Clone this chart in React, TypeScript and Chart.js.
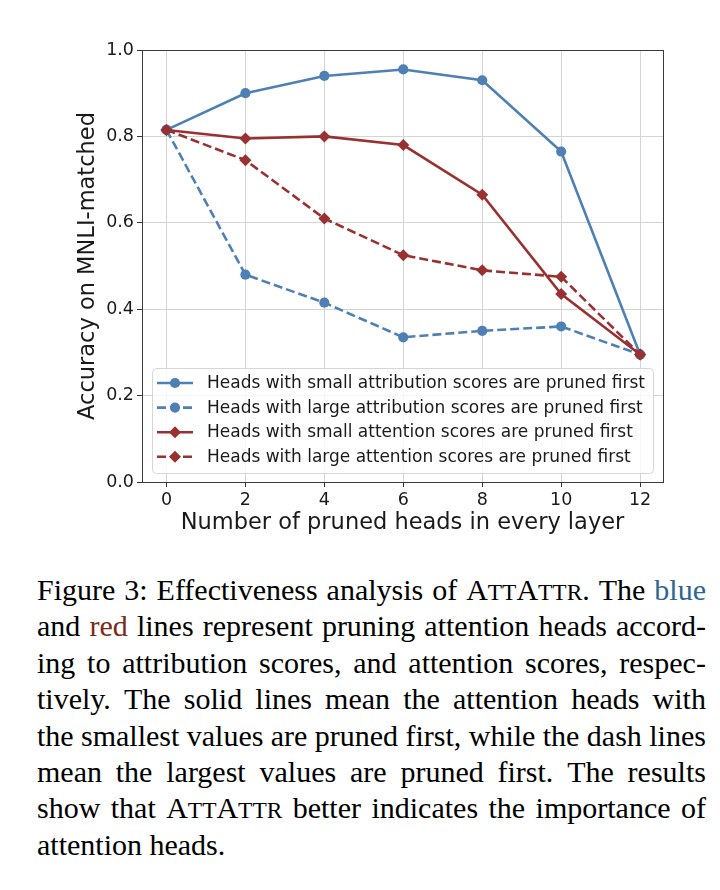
import React, { useEffect, useRef } from "react";
import { Chart, registerables } from "chart.js";

Chart.register(...registerables);

// ---- data ----
const xValues = [0, 2, 4, 6, 8, 10, 12];
const smallAttribution = [0.815, 0.9, 0.94, 0.955, 0.93, 0.765, 0.295];
const largeAttribution = [0.815, 0.48, 0.415, 0.335, 0.35, 0.36, 0.295];
const smallAttention = [0.815, 0.795, 0.8, 0.78, 0.665, 0.435, 0.295];
const largeAttention = [0.815, 0.745, 0.61, 0.525, 0.49, 0.475, 0.295];
const xTicks = [0, 2, 4, 6, 8, 10, 12];
const yTicks = [0, 0.2, 0.4, 0.6, 0.8, 1.0];
const seriesLabels = [
  "Heads with small attribution scores are pruned first",
  "Heads with large attribution scores are pruned first",
  "Heads with small attention scores are pruned first",
  "Heads with large attention scores are pruned first",
];
const xTitle = "Number of pruned heads in every layer";
const yTitle = "Accuracy on MNLI-matched";

const BLUE = "#4f80b3";
const RED = "#9a3131";
const FONT = "DejaVu Sans";
const TEXT = "#1a1a1a";

const seriesStyles = [
  { color: BLUE, dashed: false, marker: "circle" },
  { color: BLUE, dashed: true, marker: "circle" },
  { color: RED, dashed: false, marker: "rectRot" },
  { color: RED, dashed: true, marker: "rectRot" },
];
const seriesValues = [smallAttribution, largeAttribution, smallAttention, largeAttention];

function drawMarker(ctx: CanvasRenderingContext2D, kind: string, x: number, y: number, color: string) {
  ctx.save();
  ctx.fillStyle = color;
  ctx.setLineDash([]);
  ctx.beginPath();
  if (kind === "circle") {
    ctx.arc(x, y, 5.1, 0, Math.PI * 2);
  } else {
    const r = 6;
    ctx.moveTo(x, y - r);
    ctx.lineTo(x + r, y);
    ctx.lineTo(x, y + r);
    ctx.lineTo(x - r, y);
    ctx.closePath();
  }
  ctx.fill();
  ctx.restore();
}

const framePlugin = {
  id: "frameAndLegend",
  afterDraw(chart: any) {
    const { ctx, chartArea: a } = chart;
    ctx.save();
    // spines
    ctx.strokeStyle = "#3a3a3a";
    ctx.lineWidth = 1;
    ctx.setLineDash([]);
    ctx.strokeRect(Math.round(a.left) + 0.5, Math.round(a.top) + 0.5, Math.round(a.right - a.left), Math.round(a.bottom - a.top));

    // legend box
    const bx = a.left + 10;
    const by = a.bottom - 114;
    const bw = a.right - a.left - 20;
    const bh = 105;
    ctx.beginPath();
    (ctx as any).roundRect(bx + 0.5, by + 0.5, bw, bh, 4);
    ctx.fillStyle = "rgba(255,255,255,0.8)";
    ctx.fill();
    ctx.strokeStyle = "#d6d6d6";
    ctx.stroke();

    seriesLabels.forEach((label, i) => {
      const st = seriesStyles[i];
      const y = by + 15 + i * 24.6;
      const x0 = bx + 5;
      const x1 = bx + 41;
      ctx.save();
      ctx.strokeStyle = st.color;
      ctx.lineWidth = 2.6;
      ctx.setLineDash(st.dashed ? [9, 4] : []);
      ctx.beginPath();
      ctx.moveTo(x0, y);
      ctx.lineTo(x1, y);
      ctx.stroke();
      ctx.restore();
      drawMarker(ctx, st.marker, (x0 + x1) / 2, y, st.color);
      ctx.fillStyle = TEXT;
      ctx.font = `17px "${FONT}"`;
      ctx.textBaseline = "middle";
      ctx.textAlign = "left";
      ctx.fillText(label, bx + 55, y + 0.5);
    });
    ctx.restore();
  },
};

type Tok = string | { t: string; c?: string; sc?: boolean; after?: string };
const CAP_BLUE = "#2b6792";
const CAP_RED = "#7d2a1a";
const captionLines: Tok[][] = [
  ["Figure", "3:", "Effectiveness", "analysis", "of", { t: "AttAttr", sc: true, after: "." }, "The", { t: "blue", c: CAP_BLUE }],
  ["and", { t: "red", c: CAP_RED }, "lines", "represent", "pruning", "attention", "heads", "accord-"],
  ["ing", "to", "attribution", "scores,", "and", "attention", "scores,", "respec-"],
  ["tively.", "The", "solid", "lines", "mean", "the", "attention", "heads", "with"],
  ["the", "smallest", "values", "are", "pruned", "first,", "while", "the", "dash", "lines"],
  ["mean", "the", "largest", "values", "are", "pruned", "first.", "The", "results"],
  ["show", "that", { t: "AttAttr", sc: true }, "better", "indicates", "the", "importance", "of"],
];
const captionLast = "attention heads.";

function smallCaps(text: string) {
  // uppercase letters stay full size; lowercase become reduced capitals
  const parts: React.ReactNode[] = [];
  let i = 0;
  let k = 0;
  while (i < text.length) {
    const lower = text[i] !== text[i].toUpperCase();
    let j = i;
    while (j < text.length && (text[j] !== text[j].toUpperCase()) === lower) j++;
    const seg = text.slice(i, j);
    parts.push(
      lower ? (
        <span key={k++} style={{ fontSize: "0.78em", lineHeight: 0 }}>
          {seg.toUpperCase()}
        </span>
      ) : (
        <span key={k++}>{seg}</span>
      )
    );
    i = j;
  }
  return parts;
}

function renderTok(tok: Tok, key: number) {
  if (typeof tok === "string") return <span key={key}>{tok}</span>;
  if (tok.sc) {
    return (
      <span key={key}>
        {smallCaps(tok.t)}
        {tok.after || ""}
      </span>
    );
  }
  return (
    <span key={key} style={{ color: tok.c }}>
      {tok.t}
    </span>
  );
}

export default function App() {
  const ref = useRef<HTMLCanvasElement | null>(null);

  useEffect(() => {
    if (!ref.current) return;
    const datasets = seriesValues.map((vals, i) => {
      const st = seriesStyles[i];
      return {
        label: seriesLabels[i],
        data: xValues.map((x, j) => ({ x, y: vals[j] })),
        borderColor: st.color,
        backgroundColor: st.color,
        borderWidth: 2.6,
        borderDash: st.dashed ? [9, 4] : [],
        pointStyle: st.marker,
        pointRadius: st.marker === "circle" ? 5.1 : 6,
        pointBackgroundColor: st.color,
        pointBorderColor: st.color,
        pointBorderWidth: 0,
        tension: 0,
        fill: false,
        order: 3 - i,
      };
    });
    const chart = new Chart(ref.current, {
      type: "line",
      data: { datasets },
      options: {
        animation: false,
        responsive: false,
        devicePixelRatio: 1,
        layout: { padding: { top: 50, right: 57, left: 0, bottom: 0 } },
        plugins: { legend: { display: false }, tooltip: { enabled: false } },
        scales: {
          x: {
            type: "linear",
            min: -0.62,
            max: 12.58,
            afterBuildTicks: (s: any) => {
              s.ticks = xTicks.map((v) => ({ value: v }));
            },
            afterFit: (s: any) => {
              s.height = 78;
            },
            ticks: {
              callback: (v: any) => String(v),
              font: { family: FONT, size: 17.5 },
              color: TEXT,
              padding: 3,
              maxRotation: 0,
            },
            grid: { color: "#d4d4d4", lineWidth: 1, tickLength: 5, tickColor: "#333", drawTicks: true },
            border: { display: false },
            title: {
              display: true,
              text: xTitle,
              font: { family: FONT, size: 22.5, lineHeight: 1.2 },
              color: TEXT,
              padding: { top: 0, bottom: 23 },
            },
          },
          y: {
            type: "linear",
            min: 0,
            max: 1,
            afterBuildTicks: (s: any) => {
              s.ticks = yTicks.map((v) => ({ value: v }));
            },
            afterFit: (s: any) => {
              s.width = 142;
            },
            ticks: {
              callback: (v: any) => Number(v).toFixed(1),
              font: { family: FONT, size: 17.5 },
              color: TEXT,
              padding: 3,
            },
            grid: { color: "#d4d4d4", lineWidth: 1, tickLength: 5, tickColor: "#333", drawTicks: true },
            border: { display: false },
            title: {
              display: true,
              text: yTitle,
              font: { family: FONT, size: 22.5, lineHeight: 1.2 },
              color: TEXT,
              padding: { top: 74.5, bottom: 0 },
            },
          },
        },
      },
      plugins: [framePlugin],
    } as any);
    return () => chart.destroy();
  }, []);

  return (
    <div style={{ position: "absolute", left: 0, top: 0, width: 720, height: 890, background: "#fff" }}>
      <canvas ref={ref} width={720} height={560} style={{ display: "block", width: 720, height: 560 }} />
      <div
        style={{
          position: "absolute",
          left: 37,
          top: 572,
          width: 669,
          fontFamily: '"Liberation Serif", "Times New Roman", serif',
          fontSize: 30,
          lineHeight: "36.4px",
          color: "#000",
        }}
      >
        {captionLines.map((line, i) => (
          <div key={i} style={{ display: "flex", justifyContent: "space-between", whiteSpace: "nowrap", height: 36.4 }}>
            {line.map((tok, j) => renderTok(tok, j))}
          </div>
        ))}
        <div style={{ whiteSpace: "nowrap", height: 36.4 }}>{captionLast}</div>
      </div>
    </div>
  );
}
